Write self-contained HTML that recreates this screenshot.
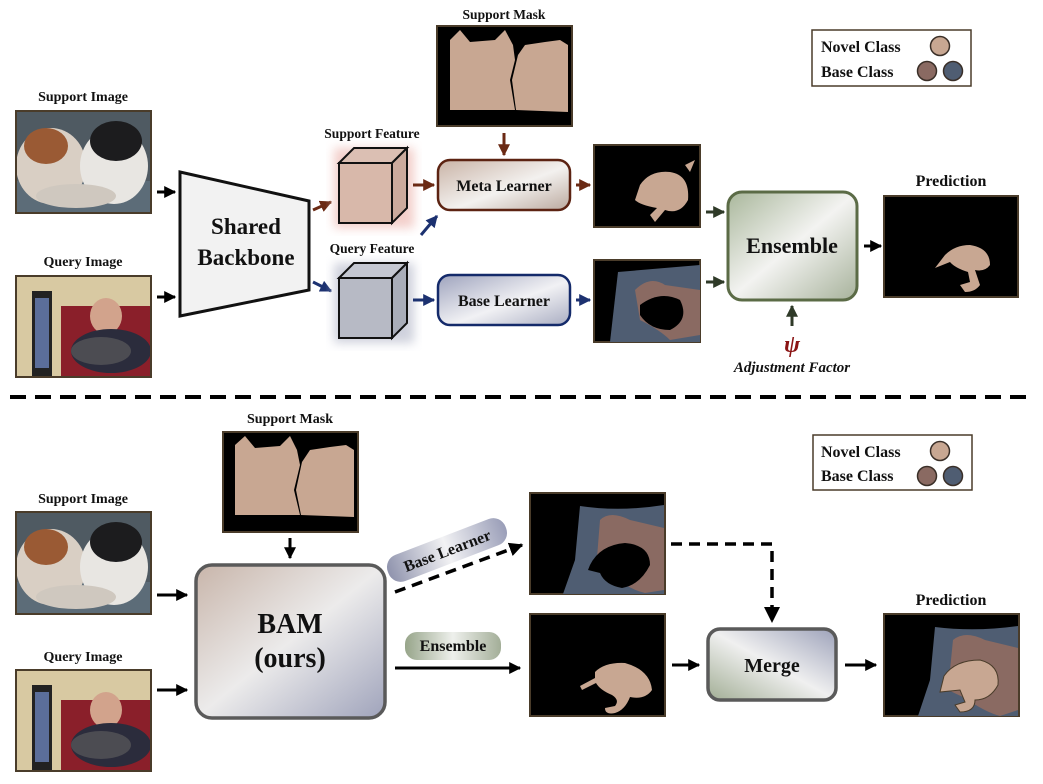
<!DOCTYPE html>
<html><head><meta charset="utf-8"><style>
html,body{margin:0;padding:0;background:#fff}
svg{display:block}
text{font-family:"Liberation Serif",serif;font-weight:bold;fill:#111}
</style></head><body>
<svg width="1043" height="784" viewBox="0 0 1043 784" xmlns="http://www.w3.org/2000/svg">
<defs>
<marker id="ab" viewBox="0 0 10 10" refX="9" refY="5" markerWidth="4" markerHeight="4" orient="auto"><path d="M0,0L10,5L0,10z" fill="#000"/></marker>
<marker id="ar" viewBox="0 0 10 10" refX="9" refY="5" markerWidth="4" markerHeight="4" orient="auto"><path d="M0,0L10,5L0,10z" fill="#6b2a14"/></marker>
<marker id="au" viewBox="0 0 10 10" refX="9" refY="5" markerWidth="4" markerHeight="4" orient="auto"><path d="M0,0L10,5L0,10z" fill="#1c3170"/></marker>
<marker id="ag" viewBox="0 0 10 10" refX="9" refY="5" markerWidth="4" markerHeight="4" orient="auto"><path d="M0,0L10,5L0,10z" fill="#2f3a28"/></marker>
<linearGradient id="gMeta" x1="0" y1="0" x2="1" y2="1"><stop offset="0" stop-color="#c9b3a6"/><stop offset=".55" stop-color="#f3f1ef"/><stop offset="1" stop-color="#bba99e"/></linearGradient>
<linearGradient id="gBase" x1="0" y1="0" x2="1" y2="1"><stop offset="0" stop-color="#9ea3bd"/><stop offset=".55" stop-color="#f1f1f4"/><stop offset="1" stop-color="#a9adc2"/></linearGradient>
<linearGradient id="gEns" x1="0" y1="0" x2="1" y2="1"><stop offset="0" stop-color="#a9b79b"/><stop offset=".5" stop-color="#f3f3f1"/><stop offset="1" stop-color="#a7b29b"/></linearGradient>
<linearGradient id="gBAM" x1="0" y1="0" x2="1" y2="1"><stop offset="0" stop-color="#c8b5aa"/><stop offset=".5" stop-color="#ecebeb"/><stop offset="1" stop-color="#9fa3bb"/></linearGradient>
<linearGradient id="gMerge" x1="0" y1="1" x2="1" y2="0"><stop offset="0" stop-color="#a2ae95"/><stop offset=".5" stop-color="#f0f0f0"/><stop offset="1" stop-color="#9da2ba"/></linearGradient>
<linearGradient id="gPillB" x1="0" y1="0" x2="1" y2="0"><stop offset="0" stop-color="#8f93ad"/><stop offset=".5" stop-color="#f2f2f4"/><stop offset="1" stop-color="#9a9eb8"/></linearGradient>
<linearGradient id="gPillE" x1="0" y1="0" x2="1" y2="0"><stop offset="0" stop-color="#97a58a"/><stop offset=".5" stop-color="#eef0ec"/><stop offset="1" stop-color="#a3ae98"/></linearGradient>
<filter id="blur"><feGaussianBlur stdDeviation="5"/></filter>
<g id="cats">
<rect width="135" height="102" fill="#4f5a62"/>
<rect y="70" width="135" height="32" fill="#5c6c78"/>
<ellipse cx="35" cy="55" rx="35" ry="38" fill="#d9cfc4"/>
<ellipse cx="30" cy="35" rx="22" ry="18" fill="#9a5a34"/>
<ellipse cx="98" cy="55" rx="34" ry="38" fill="#e8e6e2"/>
<ellipse cx="100" cy="30" rx="26" ry="20" fill="#1c1c1e"/>
<ellipse cx="60" cy="85" rx="40" ry="12" fill="#cfc8bf"/>
</g>
<g id="query">
<rect width="135" height="101" fill="#d8c9a2"/>
<rect x="16" y="15" width="20" height="86" fill="#222"/>
<rect x="19" y="22" width="14" height="70" fill="#5b6e9a"/>
<rect x="45" y="30" width="90" height="71" fill="#8a1f2a"/>
<ellipse cx="90" cy="40" rx="16" ry="18" fill="#d2a38c"/>
<ellipse cx="95" cy="75" rx="40" ry="22" fill="#2b2c3c"/>
<ellipse cx="85" cy="75" rx="30" ry="14" fill="#4c4c52"/>
</g>
</defs>

<!-- ===== TOP ===== -->
<text x="83" y="101" font-size="14" text-anchor="middle">Support Image</text>
<g transform="translate(16,111)"><use href="#cats"/></g>
<rect x="16" y="111" width="135" height="102" fill="none" stroke="#4a3c2a" stroke-width="2"/>
<text x="83" y="266" font-size="14" text-anchor="middle">Query Image</text>
<g transform="translate(16,276)"><use href="#query"/></g>
<rect x="16" y="276" width="135" height="101" fill="none" stroke="#4a3c2a" stroke-width="2"/>

<line x1="157" y1="192" x2="175" y2="192" stroke="#000" stroke-width="3" marker-end="url(#ab)"/>
<line x1="157" y1="297" x2="175" y2="297" stroke="#000" stroke-width="3" marker-end="url(#ab)"/>

<polygon points="180,172 309,201 309,290 180,316" fill="#f2f2f2" stroke="#111" stroke-width="3"/>
<text x="246" y="234" font-size="23" text-anchor="middle">Shared</text>
<text x="246" y="265" font-size="23" text-anchor="middle">Backbone</text>

<line x1="313" y1="210" x2="331" y2="202" stroke="#6b2a14" stroke-width="3" marker-end="url(#ar)"/>
<line x1="313" y1="282" x2="331" y2="291" stroke="#1c3170" stroke-width="3" marker-end="url(#au)"/>

<text x="372" y="138" font-size="13.5" text-anchor="middle">Support Feature</text>
<rect x="334" y="148" width="80" height="80" fill="#f0c3bd" filter="url(#blur)" opacity=".8"/>
<polygon points="339,163 354,148 407,148 392,163" fill="#dbbfb3" stroke="#111" stroke-width="2"/>
<polygon points="392,163 407,148 407,208 392,223" fill="#cbaa9d" stroke="#111" stroke-width="2"/>
<rect x="339" y="163" width="53" height="60" fill="#d8b8aa" stroke="#111" stroke-width="2"/>

<text x="372" y="253" font-size="13.5" text-anchor="middle">Query Feature</text>
<rect x="334" y="263" width="80" height="80" fill="#c3c6d4" filter="url(#blur)" opacity=".8"/>
<polygon points="339,278 354,263 407,263 392,278" fill="#c5c8d2" stroke="#111" stroke-width="2"/>
<polygon points="392,278 407,263 407,323 392,338" fill="#a9adb9" stroke="#111" stroke-width="2"/>
<rect x="339" y="278" width="53" height="60" fill="#b7bac5" stroke="#111" stroke-width="2"/>

<text x="504" y="19" font-size="13.5" text-anchor="middle">Support Mask</text>
<rect x="437" y="26" width="135" height="100" fill="#000"/>
<path d="M450,110 L450,40 L460,30 L470,42 L495,40 L505,30 L513,45 L515,60 L510,80 L515,110 Z" fill="#c8a792"/>
<path d="M516,110 L512,80 L518,55 L525,45 L545,42 L560,40 L568,45 L568,112 Z" fill="#c8a792"/>
<rect x="437" y="26" width="135" height="100" fill="none" stroke="#4a3c2a" stroke-width="2"/>
<line x1="504" y1="133" x2="504" y2="155" stroke="#6b2a14" stroke-width="3" marker-end="url(#ar)"/>

<line x1="413" y1="185" x2="434" y2="185" stroke="#6b2a14" stroke-width="3" marker-end="url(#ar)"/>
<line x1="421" y1="235" x2="437" y2="216" stroke="#1c3170" stroke-width="3" marker-end="url(#au)"/>
<line x1="413" y1="300" x2="434" y2="300" stroke="#1c3170" stroke-width="3" marker-end="url(#au)"/>

<rect x="438" y="160" width="132" height="50" rx="12" fill="url(#gMeta)" stroke="#5c2312" stroke-width="2.5"/>
<text x="504" y="191" font-size="16" text-anchor="middle">Meta Learner</text>
<rect x="438" y="275" width="132" height="50" rx="12" fill="url(#gBase)" stroke="#142a6a" stroke-width="2.5"/>
<text x="504" y="306" font-size="16" text-anchor="middle">Base Learner</text>

<line x1="576" y1="185" x2="590" y2="185" stroke="#6b2a14" stroke-width="3" marker-end="url(#ar)"/>
<line x1="576" y1="300" x2="590" y2="300" stroke="#1c3170" stroke-width="3" marker-end="url(#au)"/>

<rect x="594" y="145" width="106" height="82" fill="#000" stroke="#4a3c2a" stroke-width="2"/>
<path d="M640,185 Q650,170 670,172 Q690,175 688,200 Q680,215 665,210 L655,222 L650,215 L657,208 Q640,205 635,200 Z M685,165 L695,160 L690,172Z" fill="#c8a792"/>
<rect x="594" y="260" width="106" height="82" fill="#000" stroke="#4a3c2a" stroke-width="2"/>
<path d="M618,272 L700,265 L700,342 L610,342 Z" fill="#4f5d72"/>
<path d="M635,290 Q650,275 665,285 L700,290 L700,335 L670,340 Q660,330 640,320 Z" fill="#8a6a62"/>
<path d="M640,305 Q660,290 680,300 Q690,320 670,330 Q650,330 640,315 Z" fill="#000"/>

<line x1="706" y1="212" x2="724" y2="212" stroke="#2f3a28" stroke-width="3" marker-end="url(#ag)"/>
<line x1="706" y1="282" x2="724" y2="282" stroke="#2f3a28" stroke-width="3" marker-end="url(#ag)"/>

<rect x="728" y="192" width="129" height="108" rx="14" fill="url(#gEns)" stroke="#5b6b46" stroke-width="3"/>
<text x="792" y="253" font-size="22" text-anchor="middle">Ensemble</text>
<line x1="864" y1="246" x2="881" y2="246" stroke="#000" stroke-width="3" marker-end="url(#ab)"/>

<text x="951" y="186" font-size="16" text-anchor="middle">Prediction</text>
<rect x="884" y="196" width="134" height="101" fill="#000" stroke="#4a3c2a" stroke-width="2"/>
<path d="M945,255 Q955,245 970,245 Q990,248 990,265 Q985,272 975,270 L980,285 Q975,292 965,292 L960,285 L970,282 L968,272 Q955,268 950,262 L935,268 Z" fill="#c8a792"/>

<line x1="792" y1="326" x2="792" y2="306" stroke="#2f3a28" stroke-width="3" marker-end="url(#ag)"/>
<text x="792" y="352" font-size="24" text-anchor="middle" font-style="italic" style="fill:#8b1414">ψ</text>
<text x="792" y="372" font-size="15" text-anchor="middle" font-style="italic">Adjustment Factor</text>

<rect x="812" y="30" width="159" height="56" fill="#fff" stroke="#4a3c2a" stroke-width="1.5"/>
<text x="821" y="52" font-size="16">Novel Class</text>
<text x="821" y="77" font-size="16">Base Class</text>
<circle cx="940" cy="46" r="9.5" fill="#c8a792" stroke="#3a2f28" stroke-width="1.5"/>
<circle cx="927" cy="71" r="9.5" fill="#8a6a62" stroke="#3a2f28" stroke-width="1.5"/>
<circle cx="953" cy="71" r="9.5" fill="#4f5d72" stroke="#3a2f28" stroke-width="1.5"/>

<line x1="10" y1="397" x2="1026" y2="397" stroke="#000" stroke-width="4" stroke-dasharray="16,9"/>

<!-- ===== BOTTOM ===== -->
<text x="290" y="423" font-size="14" text-anchor="middle">Support Mask</text>
<rect x="223" y="432" width="135" height="100" fill="#000"/>
<path d="M235,515 L235,445 L245,436 L255,448 L280,446 L290,436 L297,450 L300,465 L294,490 L300,515 Z" fill="#c8a792"/>
<path d="M301,515 L296,490 L302,462 L310,450 L330,447 L346,445 L354,450 L354,517 Z" fill="#c8a792"/>
<rect x="223" y="432" width="135" height="100" fill="none" stroke="#4a3c2a" stroke-width="2"/>
<line x1="290" y1="538" x2="290" y2="558" stroke="#000" stroke-width="3" marker-end="url(#ab)"/>

<text x="83" y="503" font-size="14" text-anchor="middle">Support Image</text>
<g transform="translate(16,512)"><use href="#cats"/></g>
<rect x="16" y="512" width="135" height="102" fill="none" stroke="#4a3c2a" stroke-width="2"/>
<text x="83" y="661" font-size="14" text-anchor="middle">Query Image</text>
<g transform="translate(16,670)"><use href="#query"/></g>
<rect x="16" y="670" width="135" height="101" fill="none" stroke="#4a3c2a" stroke-width="2"/>

<line x1="157" y1="595" x2="187" y2="595" stroke="#000" stroke-width="3" marker-end="url(#ab)"/>
<line x1="157" y1="690" x2="187" y2="690" stroke="#000" stroke-width="3" marker-end="url(#ab)"/>

<rect x="196" y="565" width="189" height="153" rx="16" fill="url(#gBAM)" stroke="#5a5a5a" stroke-width="3.5"/>
<text x="290" y="633" font-size="28" text-anchor="middle">BAM</text>
<text x="290" y="667" font-size="28" text-anchor="middle">(ours)</text>

<line x1="395" y1="592" x2="522" y2="545" stroke="#000" stroke-width="3.5" stroke-dasharray="11,7" marker-end="url(#ab)"/>
<g transform="translate(447,550) rotate(-21)">
<rect x="-63" y="-14" width="126" height="28" rx="13" fill="url(#gPillB)"/>
<text x="0" y="6" font-size="16" text-anchor="middle">Base Learner</text>
</g>

<rect x="405" y="632" width="96" height="28" rx="12" fill="url(#gPillE)"/>
<text x="453" y="651" font-size="16" text-anchor="middle">Ensemble</text>
<line x1="395" y1="668" x2="520" y2="668" stroke="#000" stroke-width="3" marker-end="url(#ab)"/>

<rect x="530" y="493" width="135" height="101" fill="#000" stroke="#4a3c2a" stroke-width="2"/>
<path d="M580,506 Q620,512 664,505 L664,594 L563,594 L575,560 Z" fill="#4f5d72"/>
<path d="M600,520 Q610,510 630,520 L664,528 L664,590 L645,593 Q630,590 612,575 L596,570 Z" fill="#8a6a62"/>
<path d="M590,565 Q600,545 625,543 Q650,545 650,565 Q640,585 622,588 Q605,585 600,573 L588,570 Z" fill="#000"/>

<polyline points="671,544 772,544 772,608" fill="none" stroke="#000" stroke-width="3.5" stroke-dasharray="11,7"/>
<path d="M764,607 L780,607 L772,623 Z" fill="#000"/>

<rect x="530" y="614" width="135" height="102" fill="#000" stroke="#4a3c2a" stroke-width="2"/>
<path d="M595,672 Q605,662 625,663 Q650,670 652,690 Q645,700 630,697 Q625,710 615,713 Q605,715 605,708 L615,706 Q620,700 612,695 Q600,690 596,683 L582,690 L580,686 L595,678 Z" fill="#c8a792"/>

<line x1="672" y1="665" x2="699" y2="665" stroke="#000" stroke-width="3" marker-end="url(#ab)"/>
<rect x="708" y="629" width="128" height="71" rx="12" fill="url(#gMerge)" stroke="#5a5a5a" stroke-width="3.5"/>
<text x="772" y="672" font-size="20" text-anchor="middle">Merge</text>
<line x1="845" y1="665" x2="876" y2="665" stroke="#000" stroke-width="3" marker-end="url(#ab)"/>

<text x="951" y="605" font-size="16" text-anchor="middle">Prediction</text>
<rect x="884" y="614" width="135" height="102" fill="#000" stroke="#4a3c2a" stroke-width="2"/>
<path d="M935,627 Q975,632 1018,626 L1018,716 L918,716 L930,680 Z" fill="#4f5d72"/>
<path d="M953,640 Q965,630 985,640 L1018,648 L1018,710 L1000,716 Q985,712 965,698 L948,690 Z" fill="#8a6a62"/>
<path d="M944,676 Q955,660 980,660 Q1000,665 998,685 Q990,700 975,700 Q975,712 960,712 L955,705 L965,702 L960,690 L940,692 Z" fill="#c8a792" stroke="#4a3c2a" stroke-width="1"/>

<rect x="813" y="435" width="159" height="55" fill="#fff" stroke="#4a3c2a" stroke-width="1.5"/>
<text x="821" y="457" font-size="16">Novel Class</text>
<text x="821" y="481" font-size="16">Base Class</text>
<circle cx="940" cy="451" r="9.5" fill="#c8a792" stroke="#3a2f28" stroke-width="1.5"/>
<circle cx="927" cy="476" r="9.5" fill="#8a6a62" stroke="#3a2f28" stroke-width="1.5"/>
<circle cx="953" cy="476" r="9.5" fill="#4f5d72" stroke="#3a2f28" stroke-width="1.5"/>
</svg>
</body></html>
